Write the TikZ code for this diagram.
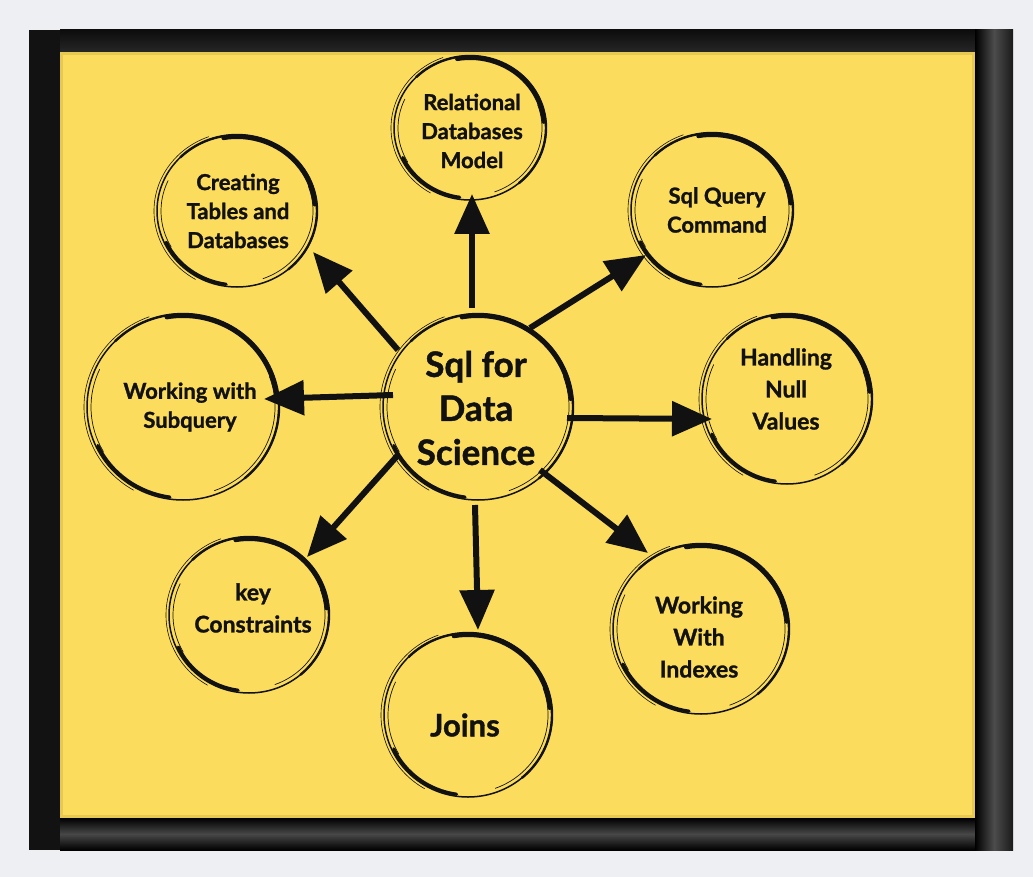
\documentclass[tikz,border=0pt]{standalone}
\usepackage{fontspec}
\setmainfont{Lato}[BoldFeatures={FakeBold=1.2}]
\usetikzlibrary{arrows.meta,calc}
\definecolor{bg}{HTML}{EDEFF3}
\definecolor{ylw}{HTML}{FCDC5C}
\definecolor{ink}{HTML}{111111}
\definecolor{frameblk}{HTML}{121212}
\newcommand\brushring[3]{%
 \pgfmathsetmacro\ra{#2}\pgfmathsetmacro\rb{#3}%
 \pgfmathsetmacro\rai{#2-2}\pgfmathsetmacro\rbi{#3-2}%
 \pgfmathsetmacro\rao{#2+3}\pgfmathsetmacro\rbo{#3+3}%
 \pgfmathsetmacro\raii{#2-4}\pgfmathsetmacro\rbii{#3-4}%
 \begin{scope}[shift={(#1)}, draw=ink, line cap=round]
  \draw[line width=1.5pt] (0,0) ellipse [x radius=\ra, y radius=\rb];
  \draw[line width=2.4pt] (135:\ra\space and \rb) arc[start angle=135,end angle=-50,x radius=\ra,y radius=\rb];
  \draw[line width=4pt] (100:\rai\space and \rbi) arc[start angle=100,end angle=5,x radius=\rai,y radius=\rbi];
  \draw[line width=0.6pt] (110:\rao\space and \rbo) arc[start angle=110,end angle=240,x radius=\rao,y radius=\rbo];
  \draw[line width=3.2pt] (205:\rai\space and \rbi) arc[start angle=205,end angle=262,x radius=\rai,y radius=\rbi];
  \draw[line width=0.7pt] (-70:\raii\space and \rbii) arc[start angle=-70,end angle=20,x radius=\raii,y radius=\rbii];
  \draw[line width=0.7pt] (155:\raii\space and \rbii) arc[start angle=155,end angle=210,x radius=\raii,y radius=\rbii];
 \end{scope}}
\tikzset{
 lbl/.style={align=center, font=\bfseries\fontsize{22}{29}\selectfont, text=ink, inner sep=0pt},
 lblb/.style={lbl, font=\bfseries\fontsize{23}{32}\selectfont},
 arr/.style={draw=ink, line width=6pt, -{Triangle[length=40pt,width=34pt]}}
}
\begin{document}
\begin{tikzpicture}[x=1pt,y=1pt]
\useasboundingbox (0,0) rectangle (1033,-877);
\fill[bg] (0,0) rectangle (1033,-877);
\fill[frameblk] (29,-30) rectangle (1013,-850);
\shade[top color=black!95, bottom color=black!85] (60,-30) rectangle (975,-52);
\shade[top color=black, bottom color=black, middle color=black!72] (60,-818) rectangle (975,-850);
\shade[left color=black, right color=black!90, middle color=black!70] (975,-30) rectangle (1013,-850);
\fill[ylw] (60,-52) rectangle (975,-818);
\draw[ylw!75!black, opacity=0.35, line width=3pt] (61.5,-53.5) rectangle (973.5,-816.5);

% circle centres
\coordinate (c) at (478,-407);
\coordinate (rel) at (470,-128);
\coordinate (sqlq) at (712,-210);
\coordinate (create) at (237,-211);
\coordinate (sub) at (183,-407);
\coordinate (null) at (787,-399);
\coordinate (key) at (249,-615);
\coordinate (joins) at (468,-715);
\coordinate (idx) at (701,-629);

\brushring{c}{95}{93}
\brushring{rel}{76}{72}
\brushring{sqlq}{81}{77}
\brushring{create}{80}{76}
\brushring{sub}{96}{93}
\brushring{null}{85}{85}
\brushring{key}{80}{78}
\brushring{joins}{84}{82}
\brushring{idx}{88}{85}

% labels
\node[lbl, font=\bfseries\fontsize{35}{44}\selectfont] (tc) at (476,-408) {Sql for\\Data\\Science};
\node[lbl] (trel) at (472,-131) {Relational\\Databases\\Model};
\node[lbl] (tsqlq) at (717,-210) {Sql Query\\Command};
\node[lbl] (tcreate) at (238,-211) {Creating\\Tables and\\Databases};
\node[lbl] (tsub) at (190,-407) {Working with\\Subquery};
\node[lblb] (tnull) at (786,-389) {Handling\\Null\\Values};
\node[lblb] (tkey) at (253,-608) {key\\Constraints};
\node[lbl, font=\bfseries\fontsize{31}{36}\selectfont] (tjoins) at (465,-725) {Joins};
\node[lblb] (tidx) at (699,-637) {Working\\With\\Indexes};

% arrows
\draw[arr] ($(c)+(-6,99)$) -- ($(rel)+(2,-66)$);
\draw[arr] ($(c)+(52,79)$) -- ($(sqlq)+(-66,-45)$);
\draw[arr] ($(c)+(-80,57)$) -- ($(create)+(76,-41)$);
\draw[arr] ($(c)+(-85,12)$) -- ($(sub)+(81,8)$);
\draw[arr] ($(c)+(89,-11)$) -- ($(null)+(-75,-20)$);
\draw[arr] ($(c)+(62,-63)$) -- ($(idx)+(-53,76)$);
\draw[arr] ($(c)+(-3,-98)$) -- ($(joins)+(10,85)$);
\draw[arr] ($(c)+(-80,-48)$) -- ($(key)+(58,58)$);
\end{tikzpicture}
\end{document}
